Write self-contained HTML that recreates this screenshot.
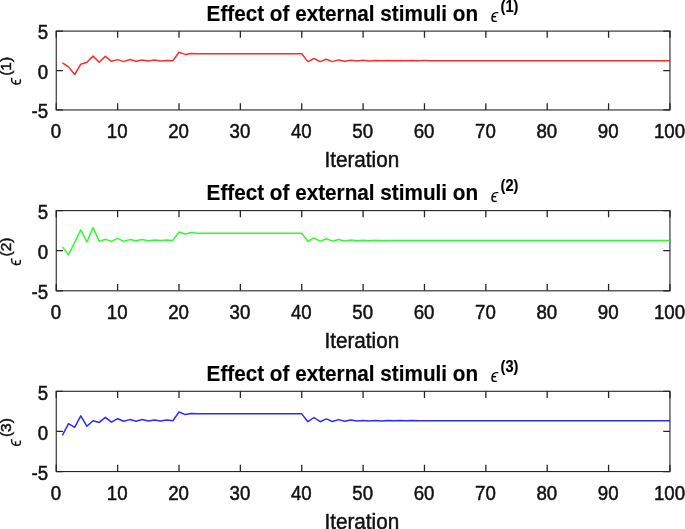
<!DOCTYPE html>
<html><head><meta charset="utf-8"><title>Effect of external stimuli</title>
<style>html,body{margin:0;padding:0;background:#fff;overflow:hidden}svg{display:block}text{font-family:"Liberation Sans",sans-serif;fill:#111;stroke:#111;stroke-width:0.45px}.k{fill:#000;stroke:#000}.b{font-weight:bold;stroke-width:0.15px}.e{stroke-width:0.15px}.i{font-style:italic}</style></head><body>
<svg width="685" height="529" viewBox="0 0 685 529">
<rect width="685" height="529" fill="#fff"/>
<g><rect x="56.25" y="31.1" width="613.70" height="78.85" fill="none" stroke="#262626" stroke-width="1.1"/><path d="M56.25 109.95v-6.7M56.25 31.1v6.7M117.62 109.95v-6.7M117.62 31.1v6.7M178.99 109.95v-6.7M178.99 31.1v6.7M240.36 109.95v-6.7M240.36 31.1v6.7M301.73 109.95v-6.7M301.73 31.1v6.7M363.10 109.95v-6.7M363.10 31.1v6.7M424.47 109.95v-6.7M424.47 31.1v6.7M485.84 109.95v-6.7M485.84 31.1v6.7M547.21 109.95v-6.7M547.21 31.1v6.7M608.58 109.95v-6.7M608.58 31.1v6.7M669.95 109.95v-6.7M669.95 31.1v6.7M56.25 31.10h6.7M669.95 31.10h-6.7M56.25 70.53h6.7M669.95 70.53h-6.7M56.25 109.95h6.7M669.95 109.95h-6.7" stroke="#262626" stroke-width="1.3" fill="none"/><polyline points="62.39,62.80 68.52,66.90 74.66,74.50 80.80,64.20 86.94,62.20 93.07,56.10 99.21,62.20 105.35,56.40 111.48,61.30 117.62,59.60 123.76,61.60 129.89,59.50 136.03,61.20 142.17,59.90 148.31,61.00 154.44,60.10 160.58,61.00 166.72,60.40 172.85,60.80 178.99,52.30 185.13,54.40 191.26,53.40 197.40,53.75 301.73,53.75 307.87,61.60 314.00,58.50 320.14,61.60 326.28,59.30 332.42,61.60 338.55,59.90 344.69,61.30 350.83,60.20 356.96,61.00 363.10,60.36 369.24,60.88 375.37,60.47 381.51,60.80 387.65,60.53 393.79,60.74 399.92,60.57 406.06,60.71 412.20,60.60 418.33,60.69 424.47,60.62 430.61,60.67 436.74,60.63 442.88,60.67 449.02,60.65 669.95,60.65" fill="none" stroke="#ff0000" stroke-width="1.5" stroke-opacity="0.83" stroke-linejoin="round"/><text transform="translate(55.85 138.05) scale(1.0 1.065)" font-size="18.7" text-anchor="middle">0</text><text transform="translate(117.22 138.05) scale(1.0 1.065)" font-size="18.7" text-anchor="middle">10</text><text transform="translate(178.59 138.05) scale(1.0 1.065)" font-size="18.7" text-anchor="middle">20</text><text transform="translate(239.96 138.05) scale(1.0 1.065)" font-size="18.7" text-anchor="middle">30</text><text transform="translate(301.33 138.05) scale(1.0 1.065)" font-size="18.7" text-anchor="middle">40</text><text transform="translate(362.70 138.05) scale(1.0 1.065)" font-size="18.7" text-anchor="middle">50</text><text transform="translate(424.07 138.05) scale(1.0 1.065)" font-size="18.7" text-anchor="middle">60</text><text transform="translate(485.44 138.05) scale(1.0 1.065)" font-size="18.7" text-anchor="middle">70</text><text transform="translate(546.81 138.05) scale(1.0 1.065)" font-size="18.7" text-anchor="middle">80</text><text transform="translate(608.18 138.05) scale(1.0 1.065)" font-size="18.7" text-anchor="middle">90</text><text transform="translate(669.55 138.05) scale(1.0 1.065)" font-size="18.7" text-anchor="middle">100</text><text transform="translate(48.05 39.40) scale(1.0 1.065)" font-size="18.7" text-anchor="end">5</text><text transform="translate(48.05 78.83) scale(1.0 1.065)" font-size="18.7" text-anchor="end">0</text><text transform="translate(48.05 118.25) scale(1.0 1.065)" font-size="18.7" text-anchor="end">-5</text><text transform="translate(361.80 167.15) scale(1.0 1.03)" font-size="20.7" text-anchor="middle">Iteration</text><text transform="translate(206.60 21.30) scale(1.0 1.03)" font-size="20.72" class="k b">Effect of external stimuli on</text><text transform="translate(490.80 21.90) scale(0.88 1.0)" font-size="19" class="k e i">ϵ</text><text transform="translate(500.60 12.30) scale(1.0 1.12)" font-size="14.6" class="k b">(1)</text><g transform="translate(21 84.73) rotate(-90)"><text transform="translate(-0.50 0.00) scale(0.86 1.0)" font-size="19" class="e i">ϵ</text><text transform="translate(8.90 -9.60) scale(1.06 1.0)" font-size="14.6">(1)</text></g></g>
<g><rect x="56.25" y="210.6" width="613.70" height="80.20" fill="none" stroke="#262626" stroke-width="1.1"/><path d="M56.25 290.8v-6.7M56.25 210.6v6.7M117.62 290.8v-6.7M117.62 210.6v6.7M178.99 290.8v-6.7M178.99 210.6v6.7M240.36 290.8v-6.7M240.36 210.6v6.7M301.73 290.8v-6.7M301.73 210.6v6.7M363.10 290.8v-6.7M363.10 210.6v6.7M424.47 290.8v-6.7M424.47 210.6v6.7M485.84 290.8v-6.7M485.84 210.6v6.7M547.21 290.8v-6.7M547.21 210.6v6.7M608.58 290.8v-6.7M608.58 210.6v6.7M669.95 290.8v-6.7M669.95 210.6v6.7M56.25 210.60h6.7M669.95 210.60h-6.7M56.25 250.70h6.7M669.95 250.70h-6.7M56.25 290.80h6.7M669.95 290.80h-6.7" stroke="#262626" stroke-width="1.3" fill="none"/><polyline points="62.39,246.90 68.52,254.70 74.66,242.30 80.80,229.90 86.94,242.00 93.07,227.60 99.21,241.40 105.35,239.30 111.48,241.40 117.62,238.30 123.76,241.30 129.89,239.60 136.03,240.80 142.17,239.60 148.31,240.80 154.44,239.90 160.58,240.60 166.72,240.00 172.85,240.40 178.99,232.00 185.13,234.00 191.26,232.60 197.40,233.25 301.73,233.25 307.87,241.30 314.00,237.90 320.14,241.40 326.28,238.70 332.42,241.10 338.55,239.50 344.69,240.90 350.83,239.90 356.96,240.70 363.10,240.21 369.24,240.73 375.37,240.32 381.51,240.65 387.65,240.38 393.79,240.59 399.92,240.42 406.06,240.56 412.20,240.45 418.33,240.54 424.47,240.47 430.61,240.52 436.74,240.48 442.88,240.52 449.02,240.50 669.95,240.50" fill="none" stroke="#00ff00" stroke-width="1.5" stroke-opacity="0.83" stroke-linejoin="round"/><text transform="translate(55.85 318.90) scale(1.0 1.065)" font-size="18.7" text-anchor="middle">0</text><text transform="translate(117.22 318.90) scale(1.0 1.065)" font-size="18.7" text-anchor="middle">10</text><text transform="translate(178.59 318.90) scale(1.0 1.065)" font-size="18.7" text-anchor="middle">20</text><text transform="translate(239.96 318.90) scale(1.0 1.065)" font-size="18.7" text-anchor="middle">30</text><text transform="translate(301.33 318.90) scale(1.0 1.065)" font-size="18.7" text-anchor="middle">40</text><text transform="translate(362.70 318.90) scale(1.0 1.065)" font-size="18.7" text-anchor="middle">50</text><text transform="translate(424.07 318.90) scale(1.0 1.065)" font-size="18.7" text-anchor="middle">60</text><text transform="translate(485.44 318.90) scale(1.0 1.065)" font-size="18.7" text-anchor="middle">70</text><text transform="translate(546.81 318.90) scale(1.0 1.065)" font-size="18.7" text-anchor="middle">80</text><text transform="translate(608.18 318.90) scale(1.0 1.065)" font-size="18.7" text-anchor="middle">90</text><text transform="translate(669.55 318.90) scale(1.0 1.065)" font-size="18.7" text-anchor="middle">100</text><text transform="translate(48.05 218.90) scale(1.0 1.065)" font-size="18.7" text-anchor="end">5</text><text transform="translate(48.05 259.00) scale(1.0 1.065)" font-size="18.7" text-anchor="end">0</text><text transform="translate(48.05 299.10) scale(1.0 1.065)" font-size="18.7" text-anchor="end">-5</text><text transform="translate(361.80 348.00) scale(1.0 1.03)" font-size="20.7" text-anchor="middle">Iteration</text><text transform="translate(206.60 200.40) scale(1.0 1.03)" font-size="20.72" class="k b">Effect of external stimuli on</text><text transform="translate(490.80 201.65) scale(0.88 1.0)" font-size="19" class="k e i">ϵ</text><text transform="translate(500.60 191.40) scale(1.0 1.12)" font-size="14.6" class="k b">(2)</text><g transform="translate(21 265.30) rotate(-90)"><text transform="translate(-0.50 0.00) scale(0.86 1.0)" font-size="19" class="e i">ϵ</text><text transform="translate(8.90 -9.60) scale(1.06 1.0)" font-size="14.6">(2)</text></g></g>
<g><rect x="56.25" y="391.3" width="613.70" height="80.25" fill="none" stroke="#262626" stroke-width="1.1"/><path d="M56.25 471.55v-6.7M56.25 391.3v6.7M117.62 471.55v-6.7M117.62 391.3v6.7M178.99 471.55v-6.7M178.99 391.3v6.7M240.36 471.55v-6.7M240.36 391.3v6.7M301.73 471.55v-6.7M301.73 391.3v6.7M363.10 471.55v-6.7M363.10 391.3v6.7M424.47 471.55v-6.7M424.47 391.3v6.7M485.84 471.55v-6.7M485.84 391.3v6.7M547.21 471.55v-6.7M547.21 391.3v6.7M608.58 471.55v-6.7M608.58 391.3v6.7M669.95 471.55v-6.7M669.95 391.3v6.7M56.25 391.30h6.7M669.95 391.30h-6.7M56.25 431.43h6.7M669.95 431.43h-6.7M56.25 471.55h6.7M669.95 471.55h-6.7" stroke="#262626" stroke-width="1.3" fill="none"/><polyline points="62.39,435.40 68.52,423.60 74.66,427.40 80.80,415.80 86.94,426.30 93.07,420.80 99.21,422.40 105.35,417.30 111.48,422.20 117.62,418.70 123.76,421.30 129.89,419.60 136.03,421.20 142.17,419.60 148.31,421.10 154.44,419.90 160.58,421.00 166.72,420.10 172.85,420.70 178.99,412.00 185.13,414.60 191.26,413.40 197.40,413.85 301.73,413.85 307.87,421.70 314.00,417.50 320.14,421.70 326.28,418.90 332.42,421.50 338.55,419.60 344.69,421.30 350.83,420.10 356.96,421.00 363.10,420.39 369.24,420.97 375.37,420.47 381.51,420.90 387.65,420.53 393.79,420.85 399.92,420.57 406.06,420.81 412.20,420.61 418.33,420.78 424.47,420.63 430.61,420.76 436.74,420.65 442.88,420.74 449.02,420.70 669.95,420.70" fill="none" stroke="#0000ff" stroke-width="1.5" stroke-opacity="0.83" stroke-linejoin="round"/><text transform="translate(55.85 499.65) scale(1.0 1.065)" font-size="18.7" text-anchor="middle">0</text><text transform="translate(117.22 499.65) scale(1.0 1.065)" font-size="18.7" text-anchor="middle">10</text><text transform="translate(178.59 499.65) scale(1.0 1.065)" font-size="18.7" text-anchor="middle">20</text><text transform="translate(239.96 499.65) scale(1.0 1.065)" font-size="18.7" text-anchor="middle">30</text><text transform="translate(301.33 499.65) scale(1.0 1.065)" font-size="18.7" text-anchor="middle">40</text><text transform="translate(362.70 499.65) scale(1.0 1.065)" font-size="18.7" text-anchor="middle">50</text><text transform="translate(424.07 499.65) scale(1.0 1.065)" font-size="18.7" text-anchor="middle">60</text><text transform="translate(485.44 499.65) scale(1.0 1.065)" font-size="18.7" text-anchor="middle">70</text><text transform="translate(546.81 499.65) scale(1.0 1.065)" font-size="18.7" text-anchor="middle">80</text><text transform="translate(608.18 499.65) scale(1.0 1.065)" font-size="18.7" text-anchor="middle">90</text><text transform="translate(669.55 499.65) scale(1.0 1.065)" font-size="18.7" text-anchor="middle">100</text><text transform="translate(48.05 399.60) scale(1.0 1.065)" font-size="18.7" text-anchor="end">5</text><text transform="translate(48.05 439.73) scale(1.0 1.065)" font-size="18.7" text-anchor="end">0</text><text transform="translate(48.05 479.85) scale(1.0 1.065)" font-size="18.7" text-anchor="end">-5</text><text transform="translate(361.80 528.75) scale(1.0 1.03)" font-size="20.7" text-anchor="middle">Iteration</text><text transform="translate(206.60 381.10) scale(1.0 1.03)" font-size="20.72" class="k b">Effect of external stimuli on</text><text transform="translate(490.80 382.35) scale(0.88 1.0)" font-size="19" class="k e i">ϵ</text><text transform="translate(500.60 372.10) scale(1.0 1.12)" font-size="14.6" class="k b">(3)</text><g transform="translate(21 446.02) rotate(-90)"><text transform="translate(-0.50 0.00) scale(0.86 1.0)" font-size="19" class="e i">ϵ</text><text transform="translate(8.90 -9.60) scale(1.06 1.0)" font-size="14.6">(3)</text></g></g>
</svg></body></html>
